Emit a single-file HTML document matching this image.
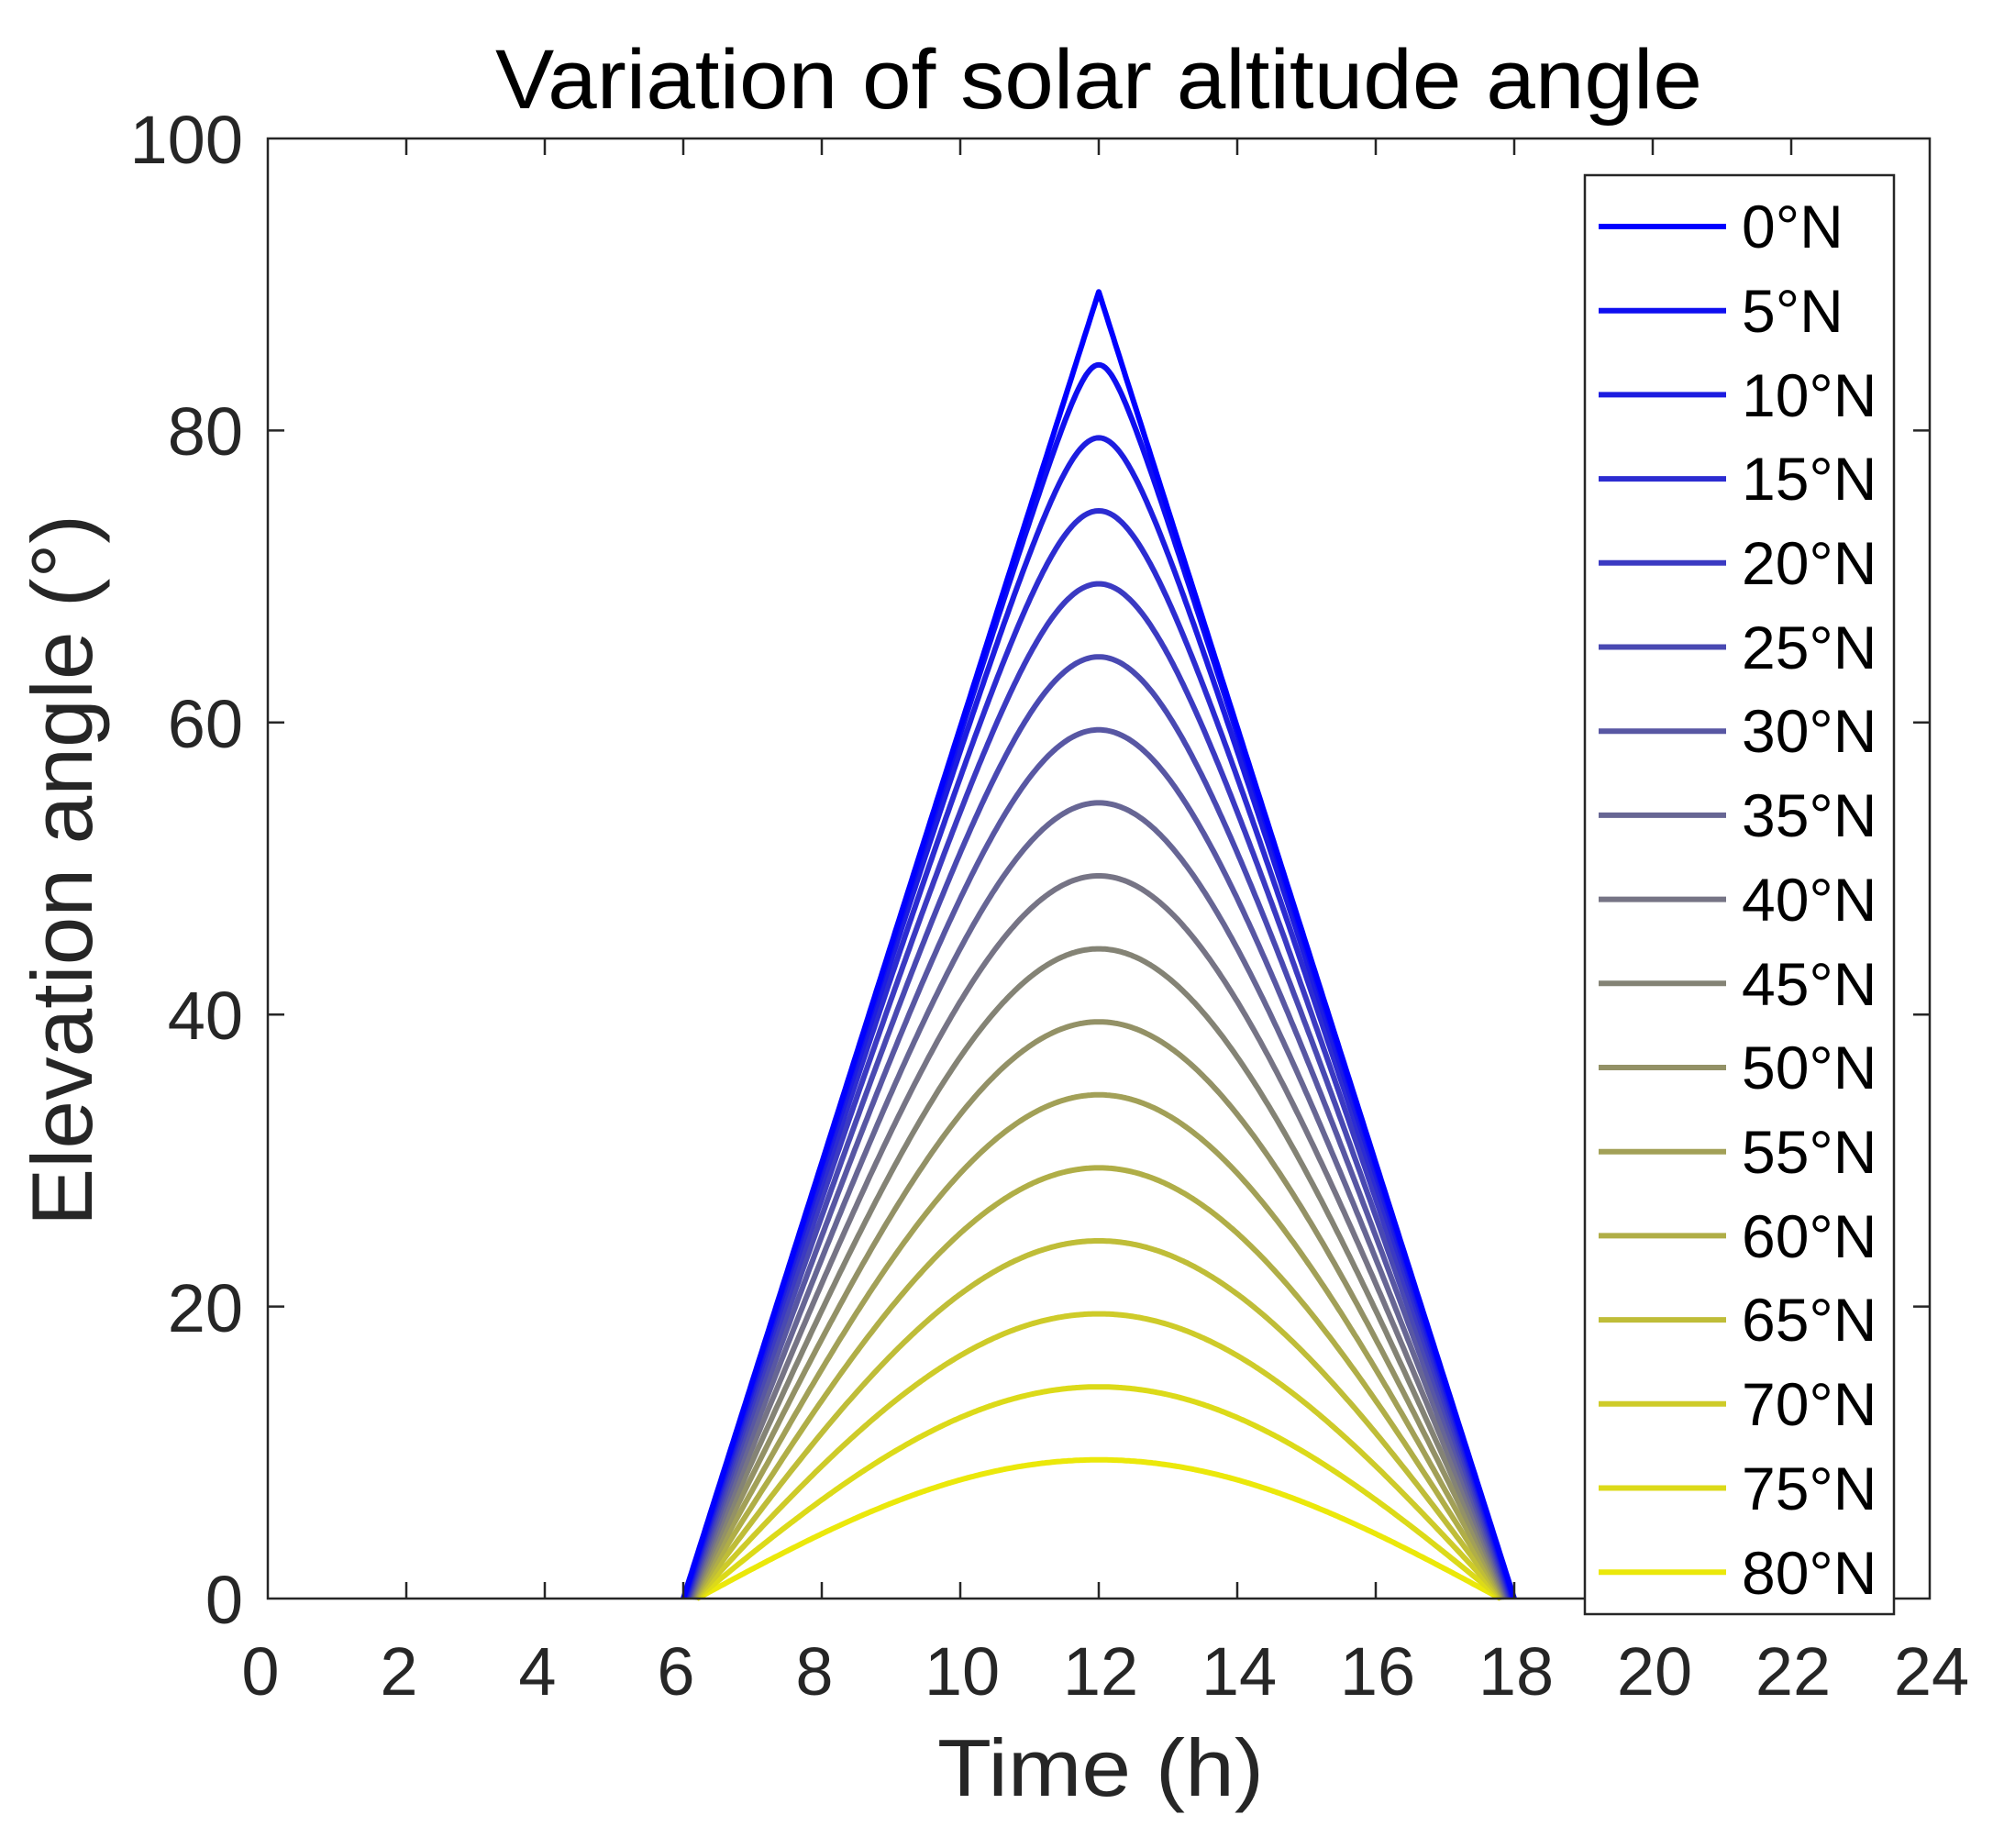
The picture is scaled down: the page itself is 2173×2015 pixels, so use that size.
<!DOCTYPE html>
<html><head><meta charset="utf-8">
<style>
html,body{margin:0;padding:0;background:#fff;}
svg{display:block;}
text{font-family:"Liberation Sans",Arial,sans-serif;}
</style></head>
<body>
<svg id="s" width="2173" height="2015" viewBox="0 0 2173 2015" xmlns="http://www.w3.org/2000/svg">
<rect width="2173" height="2015" fill="#fff"/>
<text x="1198" y="118" font-size="92" text-anchor="middle" fill="#000" textLength="1316" lengthAdjust="spacingAndGlyphs">Variation of solar altitude angle</text>
<g id="curves"></g>
<rect x="292" y="151" width="1812" height="1592" fill="none" stroke="#262626" stroke-width="2.5"/>
<g id="ticks" stroke="#262626" stroke-width="2.5"></g>
<g font-size="74" fill="#262626" text-anchor="middle">
<text x="284" y="1848">0</text>
<text x="435" y="1848">2</text>
<text x="586" y="1848">4</text>
<text x="737" y="1848">6</text>
<text x="888" y="1848">8</text>
<text x="1049" y="1848">10</text>
<text x="1200" y="1848">12</text>
<text x="1351" y="1848">14</text>
<text x="1502" y="1848">16</text>
<text x="1653" y="1848">18</text>
<text x="1804" y="1848">20</text>
<text x="1955" y="1848">22</text>
<text x="2106" y="1848">24</text>
</g>
<g font-size="74" fill="#262626" text-anchor="end">
<text x="265" y="1770">0</text>
<text x="265" y="1452">20</text>
<text x="265" y="1133">40</text>
<text x="265" y="815">60</text>
<text x="265" y="496">80</text>
<text x="265" y="178">100</text>
</g>
<text x="1200" y="1958" font-size="88" fill="#262626" text-anchor="middle" textLength="356" lengthAdjust="spacingAndGlyphs">Time (h)</text>
<text transform="translate(100,949) rotate(-90)" x="0" y="0" font-size="94" fill="#262626" text-anchor="middle" textLength="776" lengthAdjust="spacingAndGlyphs">Elevation angle (°)</text>
<rect x="1728" y="191" width="337" height="1569" fill="#fff" stroke="#262626" stroke-width="2.5"/>
<g id="leglines"></g>
<g font-size="66" fill="#000">
<text x="1899" y="270">0°N</text>
<text x="1899" y="362">5°N</text>
<text x="1899" y="454">10°N</text>
<text x="1899" y="545">15°N</text>
<text x="1899" y="637">20°N</text>
<text x="1899" y="729">25°N</text>
<text x="1899" y="820">30°N</text>
<text x="1899" y="912">35°N</text>
<text x="1899" y="1004">40°N</text>
<text x="1899" y="1096">45°N</text>
<text x="1899" y="1187">50°N</text>
<text x="1899" y="1279">55°N</text>
<text x="1899" y="1371">60°N</text>
<text x="1899" y="1462">65°N</text>
<text x="1899" y="1554">70°N</text>
<text x="1899" y="1646">75°N</text>
<text x="1899" y="1738">80°N</text>
</g>
</svg>
<script>
(function(){
var NS="http://www.w3.org/2000/svg";
var X0=292,X1=2104,Y0=1743,Y1=151;
function px(t){return X0+(X1-X0)*t/24;}
function py(v){return Y0-(Y0-Y1)*v/100;}
var ticks=document.getElementById('ticks');
function ln(p,x1,y1,x2,y2,c,w){var l=document.createElementNS(NS,'line');l.setAttribute('x1',x1);l.setAttribute('y1',y1);l.setAttribute('x2',x2);l.setAttribute('y2',y2);if(c){l.setAttribute('stroke',c);l.setAttribute('stroke-width',w);}p.appendChild(l);}
for(var i=1;i<12;i++){var x=px(2*i);ln(ticks,x,Y0,x,Y0-18);ln(ticks,x,Y1,x,Y1+18);}
for(var j=1;j<5;j++){var y=py(20*j);ln(ticks,X0,y,X0+18,y);ln(ticks,X1,y,X1-18,y);}
var cg=document.getElementById('curves'),lg=document.getElementById('leglines');
var D=Math.PI/180;
for(var k=16;k>=0;k--){
  var phi=5*k,f=k/16;
  var r=Math.round(235*f),g=Math.round(232*f),b=Math.round(255*(1-f)+10*f);
  var col='rgb('+r+','+g+','+b+')';
  var pts=[],t0=6.0+0.2*f,t1=18.0-0.2*f;
  var N=400;
  for(var n=0;n<=N;n++){
    var t=t0+(t1-t0)*n/N;
    var tp=12+(t-12)*6/(12-t0);
    var w=15*(tp-12)*D;
    var s=Math.cos(phi*D)*Math.cos(w);
    var h=Math.asin(Math.max(-1,Math.min(1,s)))/D;
    h=h*(89.5-phi)/(90-phi);
    if(h<0)h=0;
    pts.push(px(t).toFixed(1)+','+py(h).toFixed(1));
  }
  var p=document.createElementNS(NS,'polyline');
  p.setAttribute('points',pts.join(' '));
  p.setAttribute('fill','none');p.setAttribute('stroke',col);p.setAttribute('stroke-width','6');
  p.setAttribute('stroke-linejoin','round');
  cg.appendChild(p);
  var ly=247+k*91.7;
  ln(lg,1743,ly,1882,ly,col,6);
}
})();
</script>
</body></html>
